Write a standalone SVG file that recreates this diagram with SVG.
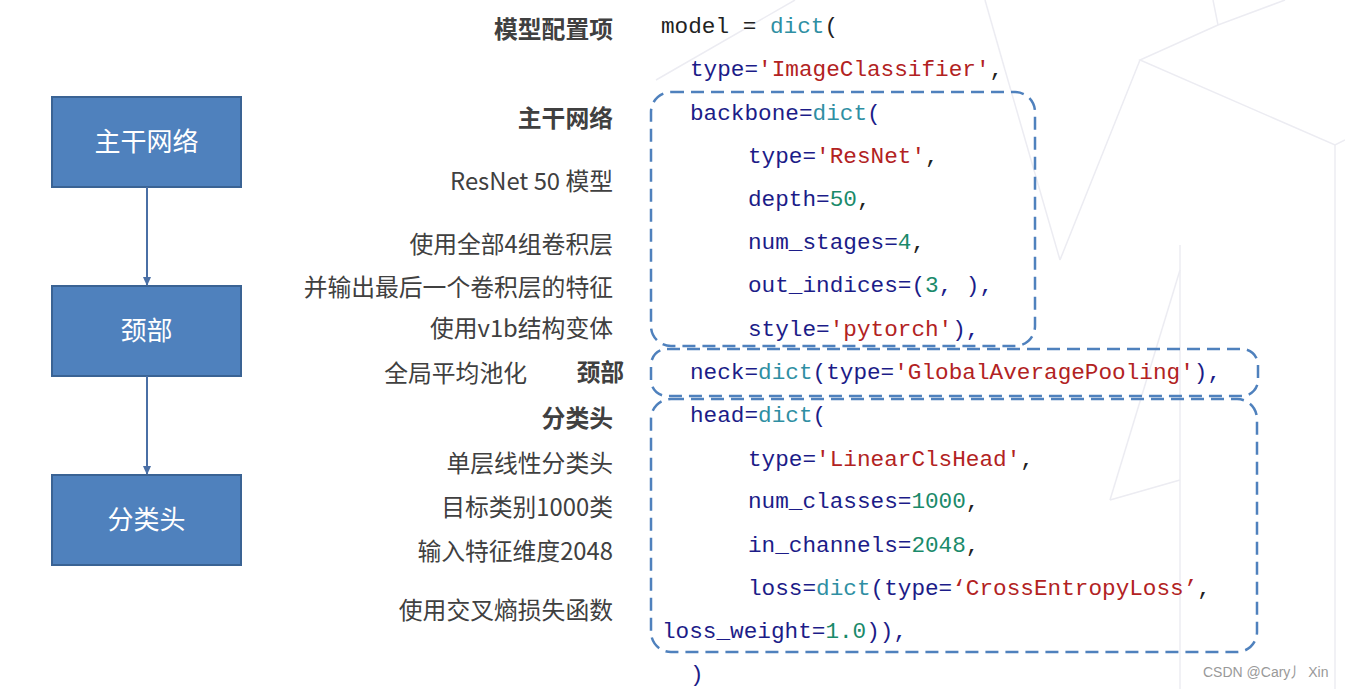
<svg xmlns="http://www.w3.org/2000/svg" width="1345" height="689" viewBox="0 0 1345 689">
<defs>
<marker id="ah" markerWidth="10" markerHeight="10" refX="8" refY="5" orient="auto" markerUnits="userSpaceOnUse"><path d="M0,1 L9,5 L0,9 Z" fill="#4a6fa5"/></marker>
<style>
.box{fill:#4f81bd;stroke:#3a6394;stroke-width:2}
.bt{font-family:"Noto Sans CJK SC",sans-serif;font-size:26px;fill:#fff;text-anchor:middle}
.lb{font-family:"Noto Sans CJK SC",sans-serif;font-size:23.8px;fill:#404040;text-anchor:end}
.b{font-weight:bold}
.code{font-family:"Liberation Mono",monospace;font-size:22.7px;fill:#1c1c88}
.d{fill:#2f8fa3}.s{fill:#b22222}.n{fill:#1a8a6a}.k{fill:#222}
.dash{fill:none;stroke:#4f81bd;stroke-width:2.5;stroke-dasharray:13 7}
.bg{stroke:#ececf2;stroke-width:1.5;fill:none}
</style>
</defs>
<rect width="1345" height="689" fill="#fff"/>
<g class="bg">
<path d="M795,0 L656,80"/><path d="M1213,0 L1218,25 L1285,0"/><path d="M1218,25 L1140,60 L1335,145 L1345,140"/><path d="M1140,60 L1060,260"/><path d="M1335,145 L1335,689"/><path d="M1005,70 L1060,260"/><path d="M1180,245 L1180,689"/><path d="M1180,270 L1110,500"/><path d="M1110,500 L1180,480"/><path d="M985,0 L1005,70"/>
</g>
<g id="node-backbone"><rect class="box" x="52" y="97" width="189" height="90"/><text class="bt" x="146.500" y="151">主干网络</text></g>
<g id="node-neck"><rect class="box" x="52" y="286" width="189" height="90"/><text class="bt" x="146.500" y="340">颈部</text></g>
<g id="node-head"><rect class="box" x="52" y="475" width="189" height="90"/><text class="bt" x="146.500" y="529">分类头</text></g>
<g id="connectors" stroke="#4a6fa5" stroke-width="2">
<line x1="147" y1="187" x2="147" y2="285" marker-end="url(#ah)"/>
<line x1="147" y1="376" x2="147" y2="474" marker-end="url(#ah)"/>
</g>
<g id="labels">
<text class="lb b" x="613" y="38">模型配置项</text>
<text class="lb b" x="613" y="127">主干网络</text>
<text class="lb" x="613" y="190">ResNet 50 模型</text>
<text class="lb" x="613" y="253">使用全部4组卷积层</text>
<text class="lb" x="613" y="296">并输出最后一个卷积层的特征</text>
<text class="lb" x="613" y="337">使用v1b结构变体</text>
<text class="lb" x="527" y="382">全局平均池化</text>
<text class="lb b" x="624" y="381">颈部</text>
<text class="lb b" x="613" y="427">分类头</text>
<text class="lb" x="613" y="472">单层线性分类头</text>
<text class="lb" x="613" y="516">目标类别1000类</text>
<text class="lb" x="613" y="560">输入特征维度2048</text>
<text class="lb" x="613" y="619">使用交叉熵损失函数</text>
</g>
<g id="groups">
<rect class="dash" x="651" y="92" width="384" height="254" rx="20"/>
<rect class="dash" x="651" y="349" width="607" height="47" rx="16"/>
<rect class="dash" x="651" y="399" width="606" height="253" rx="20"/>
</g>
<g id="code" class="code" xml:space="preserve">
<text x="661" y="33"><tspan class="k">model = </tspan><tspan class="d">dict</tspan><tspan class="k">(</tspan></text>
<text x="690" y="76">type=<tspan class="s">'ImageClassifier'</tspan><tspan class="k">,</tspan></text>
<text x="690" y="120">backbone=<tspan class="d">dict</tspan>(</text>
<text x="748" y="163">type=<tspan class="s">'ResNet'</tspan><tspan class="k">,</tspan></text>
<text x="748" y="206">depth=<tspan class="n">50</tspan><tspan class="k">,</tspan></text>
<text x="748" y="249">num_stages=<tspan class="n">4</tspan><tspan class="k">,</tspan></text>
<text x="748" y="292">out_indices=(<tspan class="n">3</tspan>, ),</text>
<text x="748" y="336">style=<tspan class="s">'pytorch'</tspan>),</text>
<text x="690" y="379">neck=<tspan class="d">dict</tspan>(type=<tspan class="s">'GlobalAveragePooling'</tspan>),</text>
<text x="690" y="422">head=<tspan class="d">dict</tspan>(</text>
<text x="748" y="466">type=<tspan class="s">'LinearClsHead'</tspan><tspan class="k">,</tspan></text>
<text x="748" y="508">num_classes=<tspan class="n">1000</tspan><tspan class="k">,</tspan></text>
<text x="748" y="552">in_channels=<tspan class="n">2048</tspan><tspan class="k">,</tspan></text>
<text x="748" y="595">loss=<tspan class="d">dict</tspan>(type=<tspan class="s">‘CrossEntropyLoss’</tspan><tspan class="k">,</tspan></text>
<text x="662" y="638">loss_weight=<tspan class="n">1.0</tspan>)),</text>
<text x="690" y="681">)</text>
</g>
<text x="1203" y="677" font-family="Liberation Sans,sans-serif" font-size="14" fill="#999">CSDN @Cary丿 Xin</text>
</svg>
